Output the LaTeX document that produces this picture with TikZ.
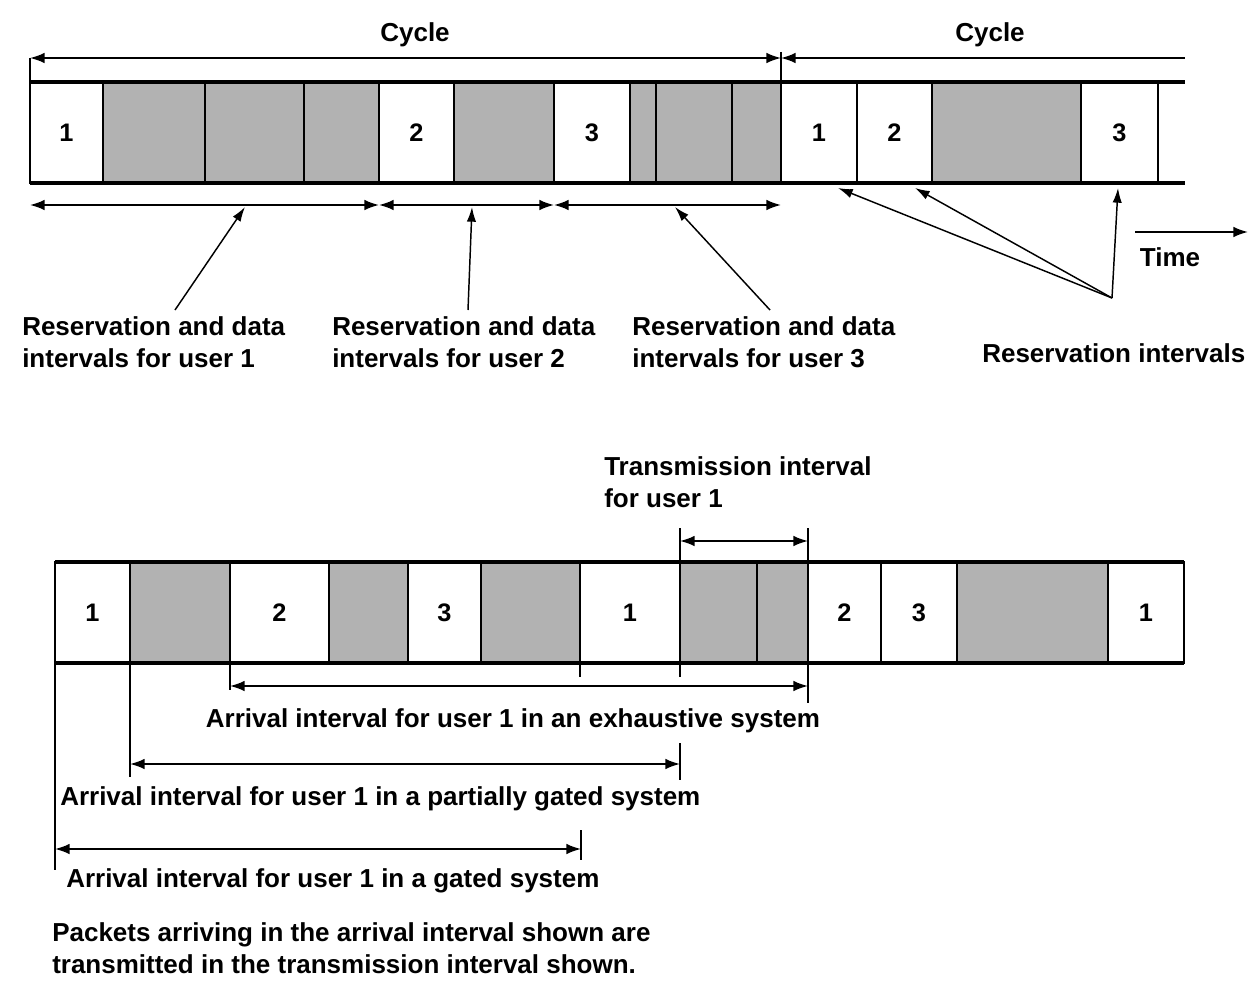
\documentclass[tikz,border=0pt]{standalone}
\usepackage{fontspec}
\setmainfont{Liberation Sans}
\usetikzlibrary{arrows.meta}
\begin{document}
\begin{tikzpicture}[x=0.75pt,y=-0.75pt,
  cell/.style={draw,line width=1.6pt,anchor=north west,inner sep=0pt,outer sep=0pt,font=\bfseries\fontsize{19}{22}\selectfont},
  shade/.style={cell,fill=black!30},
  lab/.style={font=\bfseries\fontsize{19.5}{24}\selectfont,align=left,inner sep=0pt},
  dim/.style={line width=1.4pt,{Latex[length=11pt,width=8pt]}-{Latex[length=11pt,width=8pt]}},
  ptr/.style={line width=1.1pt,-{Latex[length=11pt,width=7pt]}},
  tk/.style={line width=1pt}]
\useasboundingbox (0,0) rectangle (1252,981);
% ---------- top bar ----------
\foreach \n/\a/\b/\t/\s in {a/30/103/1/cell,b/103/205//shade,c/205/304//shade,d/304/379//shade,e/379/454/2/cell,f/454/554//shade,g/554/630/3/cell,h/630/656//shade,i/656/732//shade,j/732/781//shade,k/781/857/1/cell,l/857/932/2/cell,m/932/1081//shade,n/1081/1158/3/cell}
  \node[\s,minimum width={(\b-\a)*0.75pt},minimum height={101*0.75pt}] (t\n) at (\a,82) {\t};
\coordinate (tl1) at (30,82); \coordinate (tl2) at (30,183);
\coordinate (tr1) at (1185,82); \coordinate (tr2) at (1185,183);
\draw[line width=3.5pt] (tl1) -- (tr1) (tl2) -- (tr2);
% cycle
\coordinate (c0) at (30,58); \coordinate (c1) at (781,58); \coordinate (c2) at (1185,58);
\draw[tk] (c0) -- (tl1) (781,52) -- (781,82);
\draw[dim] (c0) -- (c1);
\draw[line width=1.4pt,{Latex[length=11pt,width=8pt]}-] (c1) -- (c2);
\node[lab] (cy1) at (415,35) {Cycle};
\node[lab] (cy2) at (990,35) {Cycle};
% spans
\coordinate (s0) at (30,205); \coordinate (s1) at (379,205); \coordinate (s2) at (554,205); \coordinate (s3) at (781,205);
\draw[dim] (s0) -- (s1); \draw[dim] (s1) -- (s2); \draw[dim] (s2) -- (s3);
\node[lab,anchor=north west] (u1) at (22,316) {Reservation and data\\intervals for user 1};
\node[lab,anchor=north west] (u2) at (332,316) {Reservation and data\\intervals for user 2};
\node[lab,anchor=north west] (u3) at (632,316) {Reservation and data\\intervals for user 3};
\draw[ptr] (175,310) -- (245,207);
\draw[ptr] (468,310) -- (472,207);
\draw[ptr] (770,310) -- (675,207);
\node[lab,anchor=north west] (ri) at (982,343) {Reservation intervals};
\coordinate (rp) at (1112,298);
\draw[ptr] (rp) -- (838,188); \draw[ptr] (rp) -- (915,188); \draw[ptr] (rp) -- (1118,188);
\coordinate (ta0) at (1135,232); \coordinate (ta1) at (1248,232);
\draw[line width=1.4pt,-{Latex[length=11pt,width=8pt]}] (ta0) -- (ta1);
\node[lab] (tm) at (1170,257) {Time};
% ---------- bottom bar ----------
\foreach \n/\a/\b/\t/\s in {a/55/130/1/cell,b/130/230//shade,c/230/329/2/cell,d/329/408//shade,e/408/481/3/cell,f/481/580//shade,g/580/680/1/cell,h/680/757//shade,i/757/808//shade,j/808/881/2/cell,k/881/957/3/cell,l/957/1108//shade,m/1108/1184/1/cell}
  \node[\s,minimum width={(\b-\a)*0.75pt},minimum height={101*0.75pt}] (b\n) at (\a,562) {\t};
\draw[line width=3.5pt] (55,562) -- (1184,562) (55,663) -- (1184,663);
% transmission
\node[lab,anchor=north west] (tx) at (604,456) {Transmission interval\\for user 1};
\draw[tk] (680,528) -- (680,562) (808,528) -- (808,562);
\draw[dim] (680,541) -- (808,541);
% arrival intervals
\draw[tk] (580,663) -- (580,677) (680,663) -- (680,677);
\draw[tk] (230,663) -- (230,690) (808,663) -- (808,703);
\draw[dim] (230,686) -- (808,686);
\node[lab] (e1) at (513,721) {Arrival interval for user 1 in an exhaustive system};
\draw[tk] (130,663) -- (130,777) (680,743) -- (680,780);
\draw[dim] (130,764) -- (680,764);
\node[lab,anchor=west] (e2) at (60,799) {Arrival interval for user 1 in a partially gated system};
\draw[tk] (55,663) -- (55,870) (581,830) -- (581,860);
\draw[dim] (55,849) -- (581,849);
\node[lab,anchor=west] (e3) at (66,881) {Arrival interval for user 1 in a gated system};
\node[lab,anchor=north west] (pk) at (52,922) {Packets arriving in the arrival interval shown are\\transmitted in the transmission interval shown.};
\end{tikzpicture}
\end{document}
